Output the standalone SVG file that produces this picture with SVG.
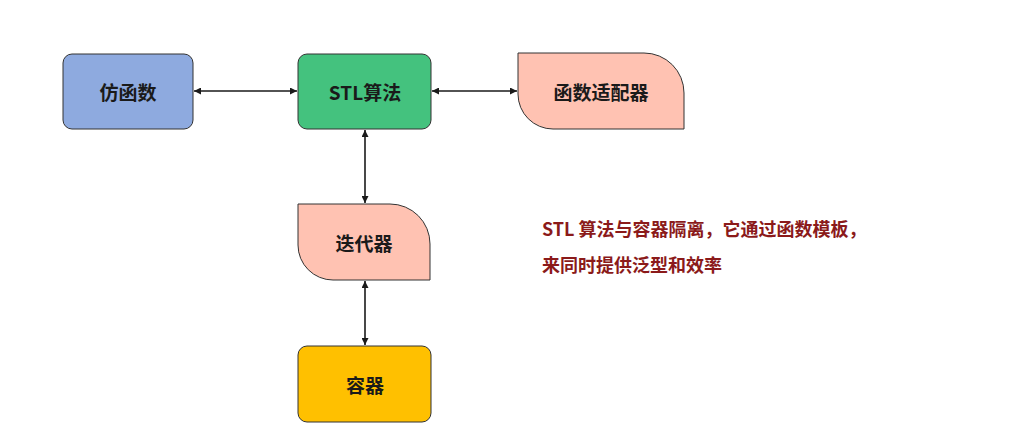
<svg xmlns="http://www.w3.org/2000/svg" width="1019" height="446" viewBox="0 0 1019 446">
<style>
.n{stroke:#333;stroke-width:1}
.t{font-family:"Noto Sans CJK SC","Liberation Sans",sans-serif;font-weight:bold;font-size:19px;fill:#1a1a1a;text-anchor:middle;dominant-baseline:central}
.c{stroke:#1a1a1a;stroke-width:1.6;fill:none;marker-start:url(#a);marker-end:url(#a)}
.note{font-family:"Noto Sans CJK SC","Liberation Sans",sans-serif;font-weight:bold;font-size:18px;fill:#8b1a1a}
</style>
<defs><marker id="a" viewBox="0 0 10 10" refX="10" refY="5" markerWidth="7" markerHeight="7" orient="auto-start-reverse" markerUnits="userSpaceOnUse"><path d="M0,0L10,5L0,10z" fill="#1a1a1a"/></marker></defs>
<rect width="1019" height="446" fill="#fff"/>
<g id="connectors">
<line class="c" x1="194" y1="91" x2="297" y2="91"/>
<line class="c" x1="432" y1="91" x2="517" y2="91"/>
<line class="c" x1="365" y1="130" x2="365" y2="203"/>
<line class="c" x1="365" y1="281" x2="365" y2="345"/>
</g>
<g id="functor"><rect class="n" x="63" y="54" width="130" height="75" rx="9" fill="#8eaadf"/><text class="t" x="128" y="91">仿函数</text></g>
<g id="stl"><rect class="n" x="298" y="54" width="133" height="75" rx="9" fill="#44c27e"/><text class="t" x="365" y="91">STL算法</text></g>
<g id="adapter"><path class="n" d="M518,53H644A40,40 0 0 1 684,93V129H553A35,35 0 0 1 518,94Z" fill="#ffc2b2"/><text class="t" x="601" y="91">函数适配器</text></g>
<g id="iterator"><path class="n" d="M298,204H390A40,40 0 0 1 430,244V280H333A35,35 0 0 1 298,245Z" fill="#ffc2b2"/><text class="t" x="364" y="242">迭代器</text></g>
<g id="container"><rect class="n" x="298" y="346" width="133" height="76" rx="9" fill="#ffc000"/><text class="t" x="365" y="384">容器</text></g>
<text class="note" x="542" y="236">STL 算法与容器隔离，它通过函数模板，</text>
<text class="note" x="542" y="272">来同时提供泛型和效率</text>
</svg>
